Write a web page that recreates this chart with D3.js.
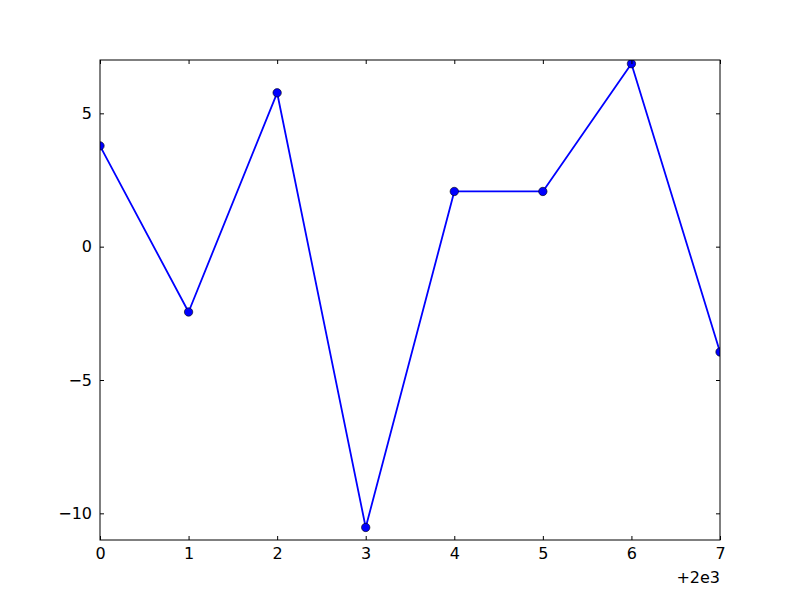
<!DOCTYPE html>
<html>
<head>
<meta charset="utf-8">
<script src="https://cdn.jsdelivr.net/npm/d3@7"></script>
<style>
  body { margin: 0; background: #fff; }
  text { font-family: "DejaVu Sans", sans-serif; }
</style>
</head>
<body>
<svg id="chart" width="800" height="600"></svg>
<script>
// values
var years = [2000, 2001, 2002, 2003, 2004, 2005, 2006, 2007];
var values = [3.78, -2.45, 5.77, -10.53, 2.07, 2.07, 6.86, -3.95];
var xTicks = [2000, 2001, 2002, 2003, 2004, 2005, 2006, 2007];
var xTickLabels = ["0", "1", "2", "3", "4", "5", "6", "7"];
var yTicks = [-10, -5, 0, 5];
var xOffsetLabel = "+2e3";

var svg = d3.select("#chart");
var mLeft = 100, mRight = 720, mTop = 60, mBottom = 540;

var x = d3.scaleLinear().domain([2000, 2007]).range([mLeft, mRight]);
var y = d3.scaleLinear().domain([-11, 7]).range([mBottom, mTop]);

svg.append("rect").attr("width", 800).attr("height", 600).attr("fill", "#fff");

svg.append("defs").append("clipPath").attr("id", "plot-clip")
  .append("rect")
  .attr("x", mLeft).attr("y", mTop)
  .attr("width", mRight - mLeft).attr("height", mBottom - mTop);

var plot = svg.append("g").attr("clip-path", "url(#plot-clip)");

var line = d3.line()
  .x(function(d, i) { return x(years[i]); })
  .y(function(d) { return y(d); });

plot.append("path")
  .datum(values)
  .attr("fill", "none")
  .attr("stroke", "#0000ff")
  .attr("stroke-width", 1.8)
  .attr("stroke-linejoin", "round")
  .attr("d", line);

plot.selectAll("circle")
  .data(values)
  .enter().append("circle")
  .attr("cx", function(d, i) { return x(years[i]); })
  .attr("cy", function(d) { return y(d); })
  .attr("r", 4.2)
  .attr("fill", "#0000ff")
  .attr("stroke", "#000")
  .attr("stroke-width", 0.6);

// inward ticks on all four sides, classic style
var tickLen = 4;
var bottomAxis = d3.axisBottom(x).tickValues(xTicks)
  .tickSizeInner(-tickLen).tickSizeOuter(0).tickPadding(8)
  .tickFormat(function(d, i) { return xTickLabels[i]; });
var topAxis = d3.axisTop(x).tickValues(xTicks)
  .tickSizeInner(-tickLen).tickSizeOuter(0).tickFormat("");
var leftAxis = d3.axisLeft(y).tickValues(yTicks)
  .tickSizeInner(-tickLen).tickSizeOuter(0).tickPadding(8)
  .tickFormat(function(d) { return d < 0 ? "\u2212" + Math.abs(d) : String(d); });
var rightAxis = d3.axisRight(y).tickValues(yTicks)
  .tickSizeInner(-tickLen).tickSizeOuter(0).tickFormat("");

function styleAxis(g) {
  g.select(".domain").remove();
  g.selectAll(".tick line").attr("stroke", "#000").attr("stroke-width", 1);
  g.selectAll(".tick text").attr("fill", "#000").style("font-size", "16px")
    .style("font-family", "DejaVu Sans, sans-serif");
}

svg.append("g").attr("transform", "translate(0," + mBottom + ")").call(bottomAxis).call(styleAxis);
svg.append("g").attr("transform", "translate(0," + mTop + ")").call(topAxis).call(styleAxis);
svg.append("g").attr("transform", "translate(" + mLeft + ",0)").call(leftAxis).call(styleAxis);
svg.append("g").attr("transform", "translate(" + mRight + ",0)").call(rightAxis).call(styleAxis);

// frame
svg.append("rect")
  .attr("x", mLeft).attr("y", mTop)
  .attr("width", mRight - mLeft).attr("height", mBottom - mTop)
  .attr("fill", "none")
  .attr("stroke", "#000")
  .attr("stroke-width", 1);

svg.append("text")
  .attr("x", mRight)
  .attr("y", 583)
  .attr("text-anchor", "end")
  .style("font-size", "16px")
  .text(xOffsetLabel);
</script>
</body>
</html>
